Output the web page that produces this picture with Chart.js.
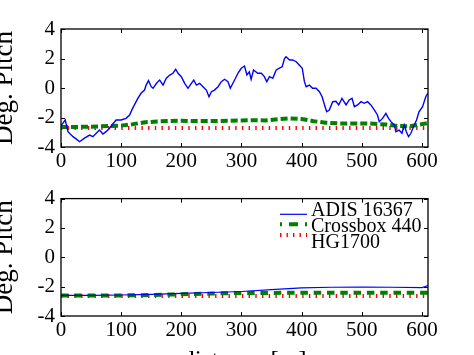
<!DOCTYPE html>
<html><head><meta charset="utf-8">
<script src="https://cdn.jsdelivr.net/npm/chart.js@4/dist/chart.umd.min.js"></script>
<style>
html,body{margin:0;padding:0;background:#fff;overflow:hidden;width:474px;height:355px;position:relative}
#c1{position:absolute;left:0;top:0}
#c2{position:absolute;left:0;top:180px}
</style></head><body>
<canvas id="c1" width="474" height="180"></canvas>
<canvas id="c2" width="474" height="190"></canvas>
<script>
// ---- data ----
const seriesLabels = ['ADIS 16367', 'Crossbox 440', 'HG1700'];
const xTicks = [0, 100, 200, 300, 400, 500, 600];
const yTicks = [4, 2, 0, -2, -4];
const yAxisTitle = 'Deg. Pitch';
const xAxisTitle = 'distance [m]';

// top panel
const topAdisDist = [0,3,7,11.6,20,25,31,39,47.6,53,58.6,64,69.7,75,80.7,86,91.7,100,108,114,119,127.7,133,138.8,141.5,145.4,150,153,158.7,164,169.7,175,180.8,186,190.7,194.5,200,205.6,211,216.7,220.6,225,230.5,236,241.6,246,250,255,261,266.5,272,277.5,281.4,285.7,290,294,299.7,305,309,313,316,320,327,333,338,342,346.6,352,357.7,363,367.6,371.5,374,380,385,391,396,401,404.6,407.5,413,418,424,429.5,434,438,441.6,446,451.6,457,461.6,467,473.8,479,483.7,487.6,493,498.7,504,509.6,515,520.7,526,529,534.5,540,544.4,548.4,554,556.7,562,566.7,570.5,574,577.6,581.6,587,591,595,601,606.3,609.6];
const topAdisPitch = [-2.55,-2.4,-2.17,-2.96,-3.3,-3.45,-3.64,-3.4,-3.19,-3.3,-3.07,-2.85,-3.12,-2.96,-2.73,-2.44,-2.17,-2.17,-2.06,-1.83,-1.38,-0.7,-0.36,-0.14,0.2,0.5,0.09,-0.02,0.32,0.54,0.2,0.66,0.88,1.0,1.27,1.0,0.77,0.32,-0.02,0.32,0.54,0.2,0.32,0.09,-0.14,-0.59,-0.25,-0.14,0.09,0.43,0.59,0.43,-0.02,0.32,0.66,1.0,1.34,1.49,0.88,1.1,0.59,1.22,1.0,1.0,0.77,0.43,0.77,0.66,1.22,1.34,1.44,2.0,2.12,1.9,1.9,1.78,1.56,1.34,0.43,0.09,0.2,-0.02,-0.02,-0.25,-0.59,-1.15,-1.61,-1.49,-0.93,-0.9,-1.15,-0.7,-1.15,-0.81,-0.7,-1.27,-1.15,-0.93,-1.04,-0.93,-1.15,-1.49,-1.83,-2.28,-2.06,-1.72,-2.06,-2.28,-2.51,-2.96,-2.85,-3.07,-2.51,-2.96,-3.3,-3.07,-2.51,-2.17,-1.61,-1.27,-0.59,-0.36];
const topCrossDist = [0,20,40,60,80,100,120,140,160,180,200,220,240,260,280,300,320,340,360,380,400,420,440,460,480,500,520,540,560,580,600,610];
const topCrossPitch = [-2.64,-2.64,-2.63,-2.61,-2.58,-2.55,-2.45,-2.32,-2.27,-2.24,-2.22,-2.24,-2.24,-2.24,-2.22,-2.2,-2.18,-2.2,-2.12,-2.06,-2.1,-2.25,-2.35,-2.4,-2.4,-2.4,-2.42,-2.48,-2.58,-2.6,-2.45,-2.38];
const topHgDist = [0, 610];
const topHgPitch = [-2.72, -2.72];

// bottom panel
const botAdisDist = [0,50,100,150,200,250,300,350,400,450,500,550,600,605,610];
const botAdisPitch = [-2.6,-2.6,-2.57,-2.52,-2.46,-2.4,-2.33,-2.2,-2.08,-2.04,-2.03,-2.04,-2.06,-2.0,-1.92];
const botCrossDist = [0,100,150,200,250,300,400,500,610];
const botCrossPitch = [-2.6,-2.6,-2.57,-2.52,-2.47,-2.43,-2.42,-2.42,-2.42];
const botHgDist = [0, 610];
const botHgPitch = [-2.63, -2.63];

// ---- helpers ----
const pts = (xs, ys) => xs.map((x, i) => ({x: x, y: ys[i]}));
Chart.defaults.font.family = '"Liberation Serif", "DejaVu Serif", serif';
Chart.defaults.color = '#000';

const frame = {
  id: 'frame',
  afterDraw(chart) {
    const {ctx, chartArea: a, scales: {x, y}} = chart;
    ctx.save();
    ctx.strokeStyle = '#000';
    ctx.lineWidth = 1.3;
    ctx.strokeRect(a.left, a.top, a.right - a.left, a.bottom - a.top);
    ctx.lineWidth = 1;
    ctx.beginPath();
    xTicks.forEach(v => {
      const px = Math.round(x.getPixelForValue(v)) + 0.5;
      ctx.moveTo(px, a.bottom); ctx.lineTo(px, a.bottom - 4);
      ctx.moveTo(px, a.top); ctx.lineTo(px, a.top + 4);
    });
    yTicks.forEach(v => {
      const py = Math.round(y.getPixelForValue(v)) + 0.5;
      ctx.moveTo(a.left, py); ctx.lineTo(a.left + 4, py);
      ctx.moveTo(a.right, py); ctx.lineTo(a.right - 4, py);
    });
    ctx.stroke();
    ctx.restore();
  }
};

const legendBox = {
  id: 'legendBox',
  afterDraw(chart) {
    if (!chart.options.plugins.legendBox || !chart.options.plugins.legendBox.show) return;
    const {ctx} = chart;
    const ds = chart.data.datasets;
    const textY = [35.5, 52.3, 68];
    const lineY = [34.3, 44.3, 55];
    ctx.save();
    ds.forEach((d, i) => {
      ctx.beginPath();
      ctx.strokeStyle = d.borderColor;
      ctx.lineWidth = d.borderWidth;
      ctx.setLineDash(d.legendDash || []);
      ctx.lineCap = 'butt';
      ctx.moveTo(280, lineY[i]);
      ctx.lineTo(307, lineY[i]);
      ctx.stroke();
    });
    ctx.setLineDash([]);
    ctx.fillStyle = '#000';
    ctx.font = '20px "Liberation Serif", serif';
    ctx.textAlign = 'left';
    ctx.textBaseline = 'alphabetic';
    ds.forEach((d, i) => ctx.fillText(d.label, 311, textY[i]));
    ctx.restore();
  }
};

function makeChart(id, adis, cross, hg, bottom) {
  const xHeight = bottom ? 54 : 33;
  return new Chart(document.getElementById(id), {
    type: 'line',
    data: {
      datasets: [
        {label: seriesLabels[0], data: adis, borderColor: '#0000ff', borderWidth: bottom ? 1.2 : 1.4, pointRadius: 0, tension: 0, fill: false},
        {label: seriesLabels[1], data: cross, borderColor: '#007f00', borderWidth: 4, borderDash: bottom ? [7.5, 5.8] : [7, 3], legendDash: [2, 7, 9, 7, 2], pointRadius: 0, tension: 0, fill: false},
        {label: seriesLabels[2], data: hg, borderColor: '#ff0000', borderWidth: 4, borderDash: [1.4, 5.3], legendDash: [1.4, 5.1], pointRadius: 0, tension: 0, fill: false}
      ]
    },
    options: {
      responsive: false,
      animation: false,
      devicePixelRatio: 1,
      layout: {padding: {left: 0, right: 46, top: bottom ? 17 : 29, bottom: 0}},
      plugins: {legend: {display: false}, tooltip: {enabled: false}, legendBox: {show: bottom}},
      scales: {
        x: {
          type: 'linear', min: 0, max: 610,
          grid: {display: false, drawTicks: false},
          border: {display: false},
          afterBuildTicks: s => { s.ticks = xTicks.map(v => ({value: v})); },
          afterFit: s => { s.height = xHeight; },
          ticks: {font: {size: 21}, padding: 2, maxRotation: 0, autoSkip: false, callback: v => String(v)},
          title: {display: bottom, text: xAxisTitle, font: {size: 25, lineHeight: 0.7}, padding: 0}
        },
        y: {
          type: 'linear', min: -4, max: 4,
          grid: {display: false, drawTicks: false},
          border: {display: false},
          afterBuildTicks: s => { s.ticks = yTicks.map(v => ({value: v})); },
          afterFit: s => { s.width = 61; },
          ticks: {font: {size: 21}, padding: 6, autoSkip: false, callback: v => String(v)},
          title: {display: true, text: yAxisTitle, font: {size: 27, lineHeight: 0.36}, padding: 0}
        }
      }
    },
    plugins: [frame, legendBox]
  });
}

makeChart('c1', pts(topAdisDist, topAdisPitch), pts(topCrossDist, topCrossPitch), pts(topHgDist, topHgPitch), false);
makeChart('c2', pts(botAdisDist, botAdisPitch), pts(botCrossDist, botCrossPitch), pts(botHgDist, botHgPitch), true);
</script>
</body></html>
